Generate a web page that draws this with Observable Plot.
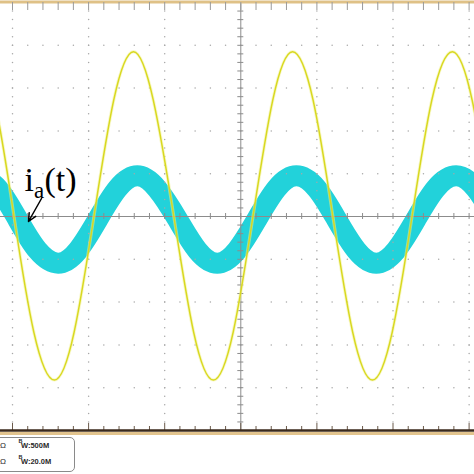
<!DOCTYPE html>
<html><head><meta charset="utf-8">
<script src="https://cdn.jsdelivr.net/npm/d3@7"></script>
<script src="https://cdn.jsdelivr.net/npm/@observablehq/plot@0.6"></script>
<style>
html,body{margin:0;padding:0;background:#fff;width:474px;height:474px;overflow:hidden;position:relative}
#chart{position:absolute;left:0;top:0}
.ch{position:absolute;font-family:"Liberation Sans",Arial,sans-serif;font-weight:bold;font-size:7.5px;color:#2a2a2a;white-space:nowrap;line-height:1}
.sm{font-size:5.5px}
.om{font-size:8px;font-weight:normal}
</style></head><body>
<div id="chart"></div>
<div id="box" style="position:absolute;left:-8px;top:437px;width:83px;height:35px;border:1.5px solid #8a8a8a;border-radius:5px;box-sizing:border-box"></div>
<script>
// Time axis in screen divisions, amplitude in vertical divisions
const yellowT = [-0.50,-0.24,0.02,0.28,0.55,0.81,1.07,1.33,1.59,1.85,2.12,2.38,2.64,2.90,3.16,3.42,3.68,3.95,4.21,4.47,4.73,4.99,5.25,5.51,5.78,6.04,6.30];
const yellowV = [3.85,2.72,0,-2.70,-3.82,-2.70,0,2.72,3.85,2.72,0,-2.70,-3.82,-2.70,0,2.72,3.85,2.72,0,-2.70,-3.82,-2.70,0,2.72,3.85,2.72,0];
const cyanT = [-0.45,-0.19,0.07,0.33,0.60,0.86,1.12,1.38,1.64,1.90,2.17,2.43,2.69,2.95,3.21,3.47,3.73,4.00,4.26,4.52,4.78,5.04,5.30,5.56,5.83,6.09,6.35];
const cyanV = [0.95,0.65,-0.07,-0.79,-1.09,-0.79,-0.07,0.65,0.95,0.65,-0.07,-0.79,-1.09,-0.79,-0.07,0.65,0.95,0.65,-0.07,-0.79,-1.09,-0.79,-0.07,0.65,0.95,0.65,-0.07];
const xMajor = [0,1,2,3,4,5,6];
const yMajor = [-4,-3,-2,-1,1,2,3,4];
const xMinor = d3.range(0,31).map(i => i/5);
const yMinor = d3.range(-25,26).map(i => i/5);
const traceLabel = ["i", "a", "(t)"];
const bwLabels = ["W:500M", "W:20.0M"];

const yellow = yellowT.map((t,i) => ({t, v: yellowV[i]}));
const cyan = cyanT.map((t,i) => ({t, v: cyanV[i]}));
const gridDots = [
  ...xMajor.filter(x => x !== 3).flatMap(x => yMinor.filter(y => Math.abs(y) < 5).map(y => ({x, y}))),
  ...yMajor.flatMap(y => xMinor.map(x => ({x, y})))
];
const isMajorX = x => Math.abs(x - Math.round(x)) < 1e-6;

const XPX = 76.1, YPX = 42.8;
const px2x = p => (p - 12) / XPX;
const py2y = p => (216 - p) / YPX;

const serif = "'Liberation Serif','Times New Roman',serif";

const chart = Plot.plot({
  width: 474,
  height: 436,
  marginTop: 2,
  marginBottom: 6,
  marginLeft: 0,
  marginRight: 0,
  x: {domain: [px2x(0), px2x(474)], axis: null},
  y: {domain: [-5, 5], axis: null},
  style: {background: "#fff", overflow: "visible"},
  marks: [
    Plot.line(cyan, {x: "t", y: "v", curve: "natural", stroke: "#22d2da", strokeWidth: 21, clip: true}),
    Plot.dot(gridDots, {x: "x", y: "y", r: 0.75, fill: "#a8a8a8", stroke: null}),
    Plot.ruleY([0], {stroke: "#8c8c8c", strokeWidth: 1}),
    Plot.ruleX([3], {stroke: "#8c8c8c", strokeWidth: 1}),
    Plot.ruleX(xMinor, {x: d => d, y1: -3 / YPX, y2: 3 / YPX, stroke: "#8c8c8c", strokeWidth: 1}),
    Plot.ruleY(yMinor, {y: d => d, x1: 3 - 3 / XPX, x2: 3 + 3 / XPX, stroke: "#8c8c8c", strokeWidth: 1}),
    Plot.line(yellow, {x: "t", y: "v", curve: "natural", stroke: "#f2f290", strokeOpacity: 0.5, strokeWidth: 3.2, clip: true}),
    Plot.line(yellow, {x: "t", y: "v", curve: "natural", stroke: "#d8d820", strokeWidth: 1.5, clip: true}),
    Plot.ruleY([5], {stroke: "#dfc187", strokeWidth: 3, dy: -0.5}),
    Plot.ruleX(xMinor, {x: d => d, y1: 5, y2: 5 - 8 / YPX, stroke: "#9a9a9a", strokeWidth: 1}),
    Plot.ruleX(xMinor, {x: d => d, y1: -5, y2: d => -5 + (isMajorX(d) ? 7 : 4) / YPX, stroke: "#6a5a4a", strokeWidth: 1}),
    Plot.ruleY([-5], {stroke: "#3b2a1c", strokeWidth: 2.5}),
    Plot.ruleY([-5], {stroke: "#e2c48e", strokeWidth: 3, dy: 3}),
    Plot.text([traceLabel[0]], {text: d => d, x: () => px2x(24), y: () => py2y(190), textAnchor: "start", lineAnchor: "bottom", fontSize: 34, fontFamily: serif, fill: "#000"}),
    Plot.text([traceLabel[1]], {text: d => d, x: () => px2x(33.5), y: () => py2y(197), textAnchor: "start", lineAnchor: "bottom", fontSize: 23, fontFamily: serif, fill: "#000"}),
    Plot.text([traceLabel[2]], {text: d => d, x: () => px2x(44), y: () => py2y(190), textAnchor: "start", lineAnchor: "bottom", fontSize: 34, fontFamily: serif, fill: "#000"}),
    Plot.arrow([0], {x1: () => px2x(41), y1: () => py2y(198), x2: () => px2x(28), y2: () => py2y(221), bend: 0, stroke: "#000", strokeWidth: 1.5, headLength: 9, headAngle: 50})
  ]
});
document.getElementById("chart").appendChild(chart);

// channel info box
const lines = [449, 465];
bwLabels.forEach((s, i) => {
  const base = lines[i];
  const om = document.createElement("span");
  om.className = "ch om"; om.textContent = "Ω";
  om.style.left = "0px"; om.style.top = (base - 7.3) + "px";
  document.body.appendChild(om);
  const b = document.createElement("span");
  b.className = "ch sm"; b.textContent = "B";
  b.style.left = "18.5px"; b.style.top = (base - 10.5) + "px";
  document.body.appendChild(b);
  const t = document.createElement("span");
  t.className = "ch"; t.textContent = s;
  t.style.left = "21px"; t.style.top = (base - 6.8) + "px";
  document.body.appendChild(t);
});
</script>
</body></html>
